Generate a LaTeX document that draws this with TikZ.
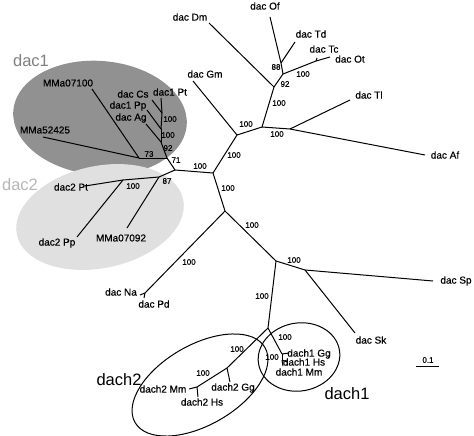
\documentclass[tikz,border=0pt]{standalone}
\usepackage{fontspec}
\setmainfont{Liberation Sans}
\newfontfamily\labfont{Liberation Sans}[FakeBold=0.5]
\definecolor{darkg}{RGB}{145,145,145}
\definecolor{lightg}{RGB}{224,224,224}
\definecolor{dactxt}{RGB}{128,128,128}
\definecolor{dacbtxt}{RGB}{182,182,182}
\begin{document}
\begin{tikzpicture}[x=1pt,y=-1pt,
  br/.style={line width=1pt},
  leaf/.style={font=\labfont\fontsize{10}{12}\selectfont, inner sep=0pt},
  bs/.style={font=\labfont\fontsize{8}{10}\selectfont, inner sep=0pt},
  clade/.style={font=\fontsize{16.5}{19}\selectfont, inner sep=0pt},
  ring/.style={line width=1pt}]
\useasboundingbox (0,0) rectangle (474,436);
% clade shading
\fill[darkg, rotate around={-5:(100,118)}] (100,118) ellipse (87 and 57);
\fill[lightg, rotate around={12:(100,217)}] (100,217) ellipse (85 and 51);
\draw[ring, rotate around={10:(299,357)}] (299,357) ellipse (41 and 34);
\draw[ring, rotate around={30:(200,385)}] (200,385) ellipse (75 and 40);
% clade labels
\node[clade, text=dactxt] (l-dac1) at (31,61) {dac1};
\node[clade, text=dacbtxt] (l-dac2) at (20,185) {dac2};
\node[clade] (l-dach2) at (119,380) {dach2};
\node[clade] (l-dach1) at (347,394) {dach1};
% internal junctions
\coordinate (C1) at (175,170);
\coordinate (C2) at (213,173);
\coordinate (C3) at (237,135);
\coordinate (C4) at (225,211);
\coordinate (C5) at (262,127);
\coordinate (C6) at (290,129);
\coordinate (C7) at (274,87);
\coordinate (C8) at (283,74);
\coordinate (C9) at (281,63);
\coordinate (T1) at (316,61);
\coordinate (C10) at (276,261);
\coordinate (C11) at (305,270);
\coordinate (C12) at (268,328);
\coordinate (D1) at (282,354);
\coordinate (E1) at (282,360);
\coordinate (D2) at (227,368);
\coordinate (D3) at (197,387);
\coordinate (A1) at (167,158);
\coordinate (A2) at (139,158);
\coordinate (P3) at (161,142);
\coordinate (P2) at (161,129);
\coordinate (P1) at (162,113);
\coordinate (B1) at (159,177);
\coordinate (B2) at (123,180);
\coordinate (N1) at (145,293);
% leaf ends
\coordinate (eGm) at (193,81);
\coordinate (eDm) at (209,23);
\coordinate (eOf) at (270,17);
\coordinate (eTd) at (295,42);
\coordinate (eTc) at (317,58);
\coordinate (eOt) at (330,57);
\coordinate (eTl) at (350,100);
\coordinate (eAf) at (425,155);
\coordinate (eSp) at (433,281);
\coordinate (eSk) at (355,333);
\coordinate (eNa) at (140,295);
\coordinate (ePd) at (144,298);
\coordinate (e1Gg) at (289,353);
\coordinate (e1Hs) at (287,362);
\coordinate (e1Mm) at (283,366);
\coordinate (e2Gg) at (230,382);
\coordinate (e2Mm) at (189,389);
\coordinate (e2Hs) at (198,397);
\coordinate (eM00) at (92,89);
\coordinate (eM25) at (43,137);
\coordinate (eCs) at (152,100);
\coordinate (e1Pt) at (161,98);
\coordinate (e1Pp) at (147,110);
\coordinate (eAg) at (146,124);
\coordinate (e2Pt) at (85,186);
\coordinate (e2Pp) at (77,237);
\coordinate (eM92) at (127,228);
% branches
\draw[br] (C1) -- (C2);
\draw[br] (C2) -- (C3);
\draw[br] (C2) -- (C4);
\draw[br] (C3) -- (eGm);
\draw[br] (C3) -- (C5);
\draw[br] (C5) -- (C6);
\draw[br] (C5) -- (C7);
\draw[br] (C7) -- (eDm);
\draw[br] (C7) -- (C8);
\draw[br] (C8) -- (C9);
\draw[br] (C9) -- (eOf);
\draw[br] (C9) -- (eTd);
\draw[br] (C8) -- (T1) -- (eOt);
\draw[br] (T1) -- (eTc);
\draw[br] (C6) -- (eTl);
\draw[br] (C6) -- (eAf);
\draw[br] (C4) -- (N1);
\draw[br] (N1) -- (eNa);
\draw[br] (N1) -- (ePd);
\draw[br] (C4) -- (C10);
\draw[br] (C10) -- (C11);
\draw[br] (C11) -- (eSp);
\draw[br] (C11) -- (eSk);
\draw[br] (C10) -- (C12);
\draw[br] (C12) -- (D1);
\draw[br] (D1) -- (e1Gg);
\draw[br] (D1) -- (E1);
\draw[br] (E1) -- (e1Hs);
\draw[br] (E1) -- (e1Mm);
\draw[br] (C12) -- (D2);
\draw[br] (D2) -- (e2Gg);
\draw[br] (D2) -- (D3);
\draw[br] (D3) -- (e2Mm);
\draw[br] (D3) -- (e2Hs);
\draw[br] (C1) -- (A1);
\draw[br] (A1) -- (A2);
\draw[br] (A2) -- (eM00);
\draw[br] (A2) -- (eM25);
\draw[br] (A1) -- (P3);
\draw[br] (P3) -- (eAg);
\draw[br] (P3) -- (P2);
\draw[br] (P2) -- (e1Pp);
\draw[br] (P2) -- (P1);
\draw[br] (P1) -- (eCs);
\draw[br] (P1) -- (e1Pt);
\draw[br] (C1) -- (B1);
\draw[br] (B1) -- (eM92);
\draw[br] (B1) -- (B2);
\draw[br] (B2) -- (e2Pt);
\draw[br] (B2) -- (e2Pp);
% leaf labels
\node[leaf] (Gm) at (205,74) {dac Gm};
\node[leaf] (Dm) at (190,17) {dac Dm};
\node[leaf] (Of) at (265,6) {dac Of};
\node[leaf] (Td) at (311,34) {dac Td};
\node[leaf] (Tc) at (324,49) {dac Tc};
\node[leaf] (Ot) at (350,59) {dac Ot};
\node[leaf] (Tl) at (369,95) {dac Tl};
\node[leaf] (Af) at (445,155) {dac Af};
\node[leaf] (Sp) at (456,281) {dac Sp};
\node[leaf] (Sk) at (371,340) {dac Sk};
\node[leaf] (Na) at (121,292) {dac Na};
\node[leaf] (Pd) at (154,304) {dac Pd};
\node[leaf] (dPp) at (57,243) {dac2 Pp};
\node[leaf] (M92) at (121,238) {MMa07092};
\node[leaf] (dPt) at (71,187) {dac2 Pt};
\node[leaf] (M25) at (45,130) {MMa52425};
\node[leaf] (M00) at (68,83) {MMa07100};
\node[leaf] (Cs) at (133,94) {dac Cs};
\node[leaf] (aPt) at (170,92) {dac1 Pt};
\node[leaf] (aPp) at (128,106) {dac1 Pp};
\node[leaf] (Ag) at (131,118) {dac Ag};
\node[leaf] (hGg) at (309,354) {dach1 Gg};
\node[leaf] (hHs) at (304,362) {dach1 Hs};
\node[leaf] (hMm) at (299,372) {dach1 Mm};
\node[leaf] (kMm) at (163,389) {dach2 Mm};
\node[leaf] (kGg) at (233,388) {dach2 Gg};
\node[leaf] (kHs) at (202,402) {dach2 Hs};
% support values
\node[bs] (s1) at (200,166) {100};
\node[bs] (s2) at (176,160) {71};
\node[bs] (s3) at (149,154) {73};
\node[bs] (s4) at (168,148) {92};
\node[bs] (s5) at (168,135) {100};
\node[bs] (s6) at (170,119) {100};
\node[bs] (s7) at (167,181) {87};
\node[bs] (s8) at (133,186) {100};
\node[bs] (s9) at (246,124) {100};
\node[bs] (s10) at (277,134) {100};
\node[bs] (s11) at (234,155) {100};
\node[bs] (s12) at (228,188) {100};
\node[bs] (s13) at (279,103) {100};
\node[bs] (s14) at (285,84) {92};
\node[bs] (s15) at (276,67) {88};
\node[bs] (s16) at (303,74) {100};
\node[bs] (s17) at (252,225) {100};
\node[bs] (s18) at (189,262) {100};
\node[bs] (s19) at (294,260) {100};
\node[bs] (s20) at (262,296) {100};
\node[bs] (s21) at (285,337) {100};
\node[bs] (s22) at (272,357) {100};
\node[bs] (s23) at (237,349) {100};
\node[bs] (s24) at (203,373) {100};
% scale bar
\node[bs] (scl) at (428,360) {0.1};
\coordinate (sb1) at (416,366);
\coordinate (sb2) at (439,366);
\draw[br] (sb1) -- (sb2);
\end{tikzpicture}
\end{document}
